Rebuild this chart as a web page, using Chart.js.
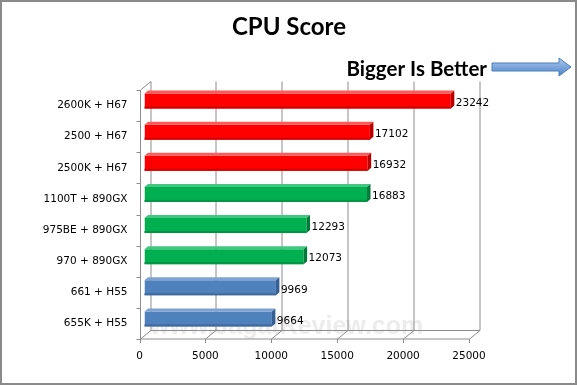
<!DOCTYPE html>
<html>
<head>
<meta charset="utf-8">
<script src="https://cdn.jsdelivr.net/npm/chart.js@4/dist/chart.umd.min.js"></script>
<style>
    html, body { margin: 0; padding: 0; background: #fff; }
    #wrap { width: 577px; height: 385px; position: relative; }
</style>
</head>
<body>
<div id="wrap"><canvas id="cpu" width="577" height="385"></canvas></div>
<script>
// ── Data ─────────────────────────────────────────────────────────────────────

const CATEGORIES = [
    "2600K + H67", "2500 + H67", "2500K + H67", "1100T + 890GX",
    "975BE + 890GX", "970 + 890GX", "661 + H55", "655K + H55",
];
const SCORES = [23242, 17102, 16932, 16883, 12293, 12073, 9969, 9664];
const PLATFORM = ["sandy", "sandy", "sandy", "amd", "amd", "amd", "clark", "clark"];
const X_TICKS = [0, 5000, 10000, 15000, 20000, 25000];

// ── Styles ───────────────────────────────────────────────────────────────────

const FACE = { sandy: "#ff0000", amd: "#00b050", clark: "#4f81bd" };
const TOP = { sandy: "#ff5a5a", amd: "#40c880", clark: "#7ea3d3" };
const SIDE = { sandy: "#b80000", amd: "#007a38", clark: "#365f91" };
const EDGE = { sandy: "#d40000", amd: "#009444", clark: "#41699c" };

const GRID = "#8c8c8c";
const FONT = "DejaVu Sans, Verdana, sans-serif";
const DEPTH = { dx: 10.5, dy: -8.5 };   // wall depth
const BAR_SHIFT = { dx: 5, dy: -4.5 };  // bars sit mid-depth
const BAR_DEPTH = { dx: 3.5, dy: -3 };

// ── Plugins ──────────────────────────────────────────────────────────────────

const frame3d = {
    id: "frame3d",
    beforeDraw(chart) {
        const { ctx, chartArea: a, scales } = chart;
        const x = scales.x;
        ctx.save();
        ctx.fillStyle = "#fff";
        ctx.fillRect(0, 0, chart.width, chart.height);

        // outer border
        ctx.strokeStyle = "#8a8a8a";
        ctx.lineWidth = 2;
        ctx.strokeRect(1, 1, chart.width - 2, chart.height - 2);

        // watermark
        ctx.font = "bold 25px Arial, Liberation Sans, sans-serif";
        ctx.fillStyle = "rgba(200,200,200,0.35)";
        ctx.textBaseline = "middle";
        ctx.fillText("www.JagatReview.com", 150, 327);

        ctx.lineWidth = 1;
        ctx.strokeStyle = GRID;
        const bTop = a.top + DEPTH.dy, bBot = a.bottom + DEPTH.dy;

        // back wall verticals + floor diagonals
        for (const v of X_TICKS) {
            const px = Math.round(x.getPixelForValue(v)) + 0.5;
            ctx.beginPath();
            ctx.moveTo(px + DEPTH.dx, bTop);
            ctx.lineTo(px + DEPTH.dx, bBot);
            ctx.lineTo(px, a.bottom);
            ctx.lineTo(px, a.bottom + 4);
            ctx.stroke();
        }
        // back floor line, front floor line
        const l = Math.round(a.left) + 0.5, r = Math.round(a.right) + 0.5;
        ctx.beginPath();
        ctx.moveTo(l + DEPTH.dx, bBot);
        ctx.lineTo(r + DEPTH.dx, bBot);
        ctx.moveTo(l, a.bottom);
        ctx.lineTo(r, a.bottom);
        // left wall
        ctx.moveTo(l, a.bottom);
        ctx.lineTo(l, a.top);
        ctx.lineTo(l + DEPTH.dx, bTop);
        ctx.stroke();

        // category ticks on left wall
        const y = scales.y;
        const band = (a.bottom - a.top) / CATEGORIES.length;
        ctx.beginPath();
        for (let i = 0; i <= CATEGORIES.length; i++) {
            const py = Math.round(y.getPixelForValue(i) - band / 2) + 0.5;
            ctx.moveTo(l - 4, py);
            ctx.lineTo(l, py);
        }
        ctx.stroke();
        ctx.restore();

        // title + note
        ctx.save();
        ctx.fillStyle = "#000";
        ctx.textAlign = "center";
        ctx.textBaseline = "middle";
        ctx.font = "bold 24px Lato, sans-serif";
        ctx.fillText("CPU Score", 289, 27);
        ctx.textAlign = "right";
        ctx.font = "bold 20.5px Lato, sans-serif";
        ctx.fillText("Bigger Is Better", 487, 69);

        // arrow
        const g = ctx.createLinearGradient(0, 57, 0, 77);
        g.addColorStop(0, "#b3cdee");
        g.addColorStop(0.5, "#7ea6dc");
        g.addColorStop(1, "#4f7fc4");
        ctx.fillStyle = g;
        ctx.strokeStyle = "#4a7ebb";
        ctx.beginPath();
        ctx.moveTo(492, 63);
        ctx.lineTo(559, 63);
        ctx.lineTo(559, 58);
        ctx.lineTo(571, 67);
        ctx.lineTo(559, 76);
        ctx.lineTo(559, 71);
        ctx.lineTo(492, 71);
        ctx.closePath();
        ctx.fill();
        ctx.stroke();
        ctx.restore();
    },
    beforeDatasetsDraw(chart) {
        chart.ctx.save();
        chart.ctx.translate(BAR_SHIFT.dx, BAR_SHIFT.dy);
    },
    afterDatasetsDraw(chart) {
        const { ctx } = chart;
        const meta = chart.getDatasetMeta(0);
        meta.data.forEach((bar, i) => {
            const p = PLATFORM[i];
            const top = bar.y - bar.height / 2, bot = bar.y + bar.height / 2;
            // top face
            ctx.fillStyle = TOP[p];
            ctx.beginPath();
            ctx.moveTo(bar.base, top);
            ctx.lineTo(bar.x, top);
            ctx.lineTo(bar.x + BAR_DEPTH.dx, top + BAR_DEPTH.dy);
            ctx.lineTo(bar.base + BAR_DEPTH.dx, top + BAR_DEPTH.dy);
            ctx.closePath();
            ctx.fill();
            // end cap
            ctx.fillStyle = SIDE[p];
            ctx.beginPath();
            ctx.moveTo(bar.x, top);
            ctx.lineTo(bar.x + BAR_DEPTH.dx, top + BAR_DEPTH.dy);
            ctx.lineTo(bar.x + BAR_DEPTH.dx, bot + BAR_DEPTH.dy);
            ctx.lineTo(bar.x, bot);
            ctx.closePath();
            ctx.fill();
            // bottom edge shade
            ctx.fillStyle = EDGE[p];
            ctx.fillRect(bar.base, bot - 2, bar.x - bar.base, 2);
        });
        ctx.restore();

        // value labels
        ctx.save();
        ctx.font = "10.5px " + FONT;
        ctx.fillStyle = "#000";
        ctx.textBaseline = "middle";
        meta.data.forEach((bar, i) => {
            ctx.fillText(String(SCORES[i]),
                bar.x + BAR_SHIFT.dx + BAR_DEPTH.dx + 1.5, bar.y + BAR_SHIFT.dy + 2);
        });
        ctx.restore();
    },
};

// ── Chart ────────────────────────────────────────────────────────────────────

new Chart(document.getElementById("cpu"), {
    type: "bar",
    data: {
        labels: CATEGORIES,
        datasets: [{
            data: SCORES,
            backgroundColor: PLATFORM.map((p) => FACE[p]),
            barPercentage: 0.48,
            categoryPercentage: 1,
        }],
    },
    options: {
        indexAxis: "y",
        responsive: false,
        animation: false,
        events: [],
        layout: { padding: { left: 9.5, right: 108, top: 90, bottom: 0 } },
        scales: {
            x: {
                min: 0,
                max: 25000,
                afterBuildTicks(scale) {
                    scale.ticks = X_TICKS.map((v) => ({ value: v }));
                },
                afterFit(scale) { scale.height = 46; },
                grid: { display: false, drawTicks: false },
                border: { display: false },
                ticks: {
                    color: "#000",
                    padding: 11,
                    font: { family: FONT, size: 10.5 },
                    maxRotation: 0,
                    callback: (v) => String(v),
                },
            },
            y: {
                afterFit(scale) { scale.width = 130; },
                grid: { display: false, drawTicks: false },
                border: { display: false },
                ticks: {
                    color: "#000",
                    padding: 12,
                    font: { family: FONT, size: 10.5 },
                },
            },
        },
        plugins: {
            legend: { display: false },
            tooltip: { enabled: false },
        },
    },
    plugins: [frame3d],
});
</script>
</body>
</html>
